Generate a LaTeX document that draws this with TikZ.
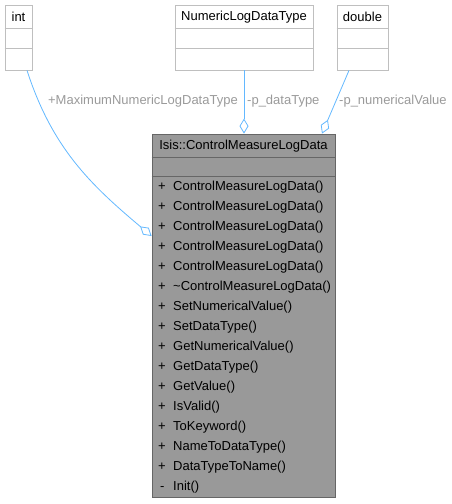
\documentclass[tikz,border=0pt]{standalone}
\usepackage{fontspec}
\setmainfont{Liberation Sans}
\usepackage{tikz}
\usetikzlibrary{arrows.meta,positioning,calc}

\definecolor{edgeblue}{HTML}{63B8FF}
\definecolor{labelgray}{HTML}{9A9A9A}
\definecolor{boxgray}{HTML}{BFBFBF}
\definecolor{maingray}{HTML}{666666}
\definecolor{mainfill}{HTML}{999999}

\begin{document}
\begin{tikzpicture}[
        x=1pt, y=-1pt,
        font=\fontsize{13}{16}\selectfont,
        classbox/.style={rectangle, draw=boxgray, fill=white, line width=0.8pt, inner sep=0pt},
        mainbox/.style={classbox, draw=maingray, fill=mainfill},
        sepline/.style={draw=boxgray, line width=0.8pt},
        mainsep/.style={draw=maingray, line width=0.8pt},
        assoc/.style={draw=edgeblue, line width=0.8pt, -{Diamond[open, length=15pt, width=9pt]}},
        edgelabel/.style={text=labelgray, inner sep=0pt}
    ]
        \useasboundingbox (0,0) rectangle (451,504);

        % member types
        \node[classbox, minimum width=27pt, minimum height=65pt] (int) at (18.5,37.5) {};
        \node[classbox, minimum width=138pt, minimum height=65pt] (dtype) at (244,37.5) {};
        \node[classbox, minimum width=51pt, minimum height=65pt] (dbl) at (362.5,37.5) {};
        \node (intname) at (18.5,17) {int};
        \node (dtypename) at (244,17) {NumericLogDataType};
        \node (dblname) at (362.5,17) {double};
        \draw[sepline] (int.west |- 0,28) -- (int.east |- 0,28);
        \draw[sepline] (int.west |- 0,48) -- (int.east |- 0,48);
        \draw[sepline] (dtype.west |- 0,28) -- (dtype.east |- 0,28);
        \draw[sepline] (dtype.west |- 0,48) -- (dtype.east |- 0,48);
        \draw[sepline] (dbl.west |- 0,28) -- (dbl.east |- 0,28);
        \draw[sepline] (dbl.west |- 0,48) -- (dbl.east |- 0,48);

        % the class itself
        \node[mainbox, minimum width=183pt, minimum height=363pt] (main) at (243.5,315.5) {};
        \node (mainname) at (243.5,146) {Isis::ControlMeasureLogData};
        \draw[mainsep] (main.west |- 0,157) -- (main.east |- 0,157);
        \draw[mainsep] (main.west |- 0,176) -- (main.east |- 0,176);
        \node[anchor=north west, inner sep=0pt, font=\fontsize{13}{20}\selectfont] (members) at (158,176) {%
            \begin{tabular}{@{}p{15pt}@{}l@{}}
            + & ControlMeasureLogData()\\
            + & ControlMeasureLogData()\\
            + & ControlMeasureLogData()\\
            + & ControlMeasureLogData()\\
            + & ControlMeasureLogData()\\
            + & \textasciitilde ControlMeasureLogData()\\
            + & SetNumericalValue()\\
            + & SetDataType()\\
            + & GetNumericalValue()\\
            + & GetDataType()\\
            + & GetValue()\\
            + & IsValid()\\
            + & ToKeyword()\\
            + & NameToDataType()\\
            + & DataTypeToName()\\
            \hspace{2pt}- & Init()
            \end{tabular}};

        % associations
        \draw[assoc] ([xshift=8.5pt]int.south) to[out=-72, in=140] ([yshift=79.5pt]main.west);
        \draw[assoc] (dtype.south) -- (main.north -| dtype.south);
        \draw[assoc] ([xshift=-13.5pt]dbl.south) -- ([xshift=78.5pt]main.north);

        \node[edgelabel, anchor=east] (lblmax) at (238,101) {+MaximumNumericLogDataType};
        \node[edgelabel, anchor=west] (lbltype) at (247,101) {-p\_dataType};
        \node[edgelabel, anchor=west] (lblvalue) at (339,101) {-p\_numericalValue};
    \end{tikzpicture}
\end{document}
